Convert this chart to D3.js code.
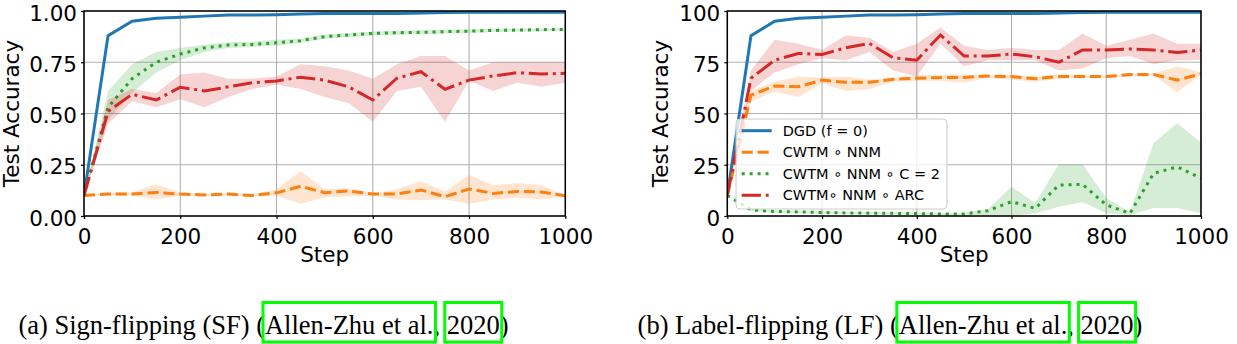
<!DOCTYPE html>
<html>
<head>
<meta charset="utf-8">
<script src="https://cdn.jsdelivr.net/npm/d3@7"></script>
<style>
  html, body { margin: 0; padding: 0; background: #ffffff; }
  svg { display: block; }
  .sans { font-family: "DejaVu Sans", sans-serif; }
  .serif { font-family: "Liberation Serif", "Times New Roman", serif; }
</style>
</head>
<body>
<svg id="chart" width="1237" height="344"></svg>
<script>
// ---------------- DATA ----------------
const steps = [0,50,100,150,200,250,300,350,400,450,500,550,600,650,700,750,800,850,900,950,1000];

const seriesNames = ["DGD (f = 0)", "CWTM \u2218 NNM", "CWTM \u2218 NNM \u2218 C = 2", "CWTM\u2218 NNM \u2218 ARC"];

// (a) Sign-flipping: test accuracy (fraction)
const sfDGD    = [0.10,0.88,0.95,0.965,0.97,0.975,0.98,0.98,0.982,0.985,0.988,0.988,0.988,0.988,0.99,0.993,0.994,0.994,0.994,0.994,0.994];
const sfDGDLo  = [0.10,0.875,0.945,0.96,0.966,0.971,0.976,0.976,0.978,0.981,0.983,0.983,0.982,0.982,0.984,0.989,0.991,0.991,0.991,0.991,0.991];
const sfDGDHi  = [0.10,0.885,0.954,0.969,0.974,0.979,0.984,0.984,0.986,0.989,0.992,0.993,0.994,0.994,0.995,0.996,0.997,0.997,0.997,0.997,0.997];

const sfCWTM   = [0.10,0.107,0.107,0.115,0.107,0.103,0.107,0.10,0.113,0.145,0.114,0.122,0.107,0.107,0.127,0.094,0.132,0.11,0.12,0.117,0.099];
const sfCWTMLo = [0.10,0.10,0.10,0.08,0.10,0.095,0.10,0.095,0.10,0.06,0.09,0.095,0.10,0.08,0.078,0.08,0.06,0.08,0.09,0.08,0.097];
const sfCWTMHi = [0.10,0.113,0.115,0.155,0.115,0.11,0.113,0.105,0.13,0.22,0.13,0.135,0.11,0.13,0.17,0.12,0.20,0.15,0.16,0.15,0.10];

const sfC2     = [0.10,0.53,0.67,0.75,0.79,0.82,0.834,0.837,0.845,0.855,0.875,0.883,0.891,0.894,0.896,0.899,0.902,0.905,0.907,0.909,0.91];
const sfC2Lo   = [0.10,0.47,0.60,0.70,0.76,0.80,0.82,0.825,0.83,0.845,0.865,0.873,0.881,0.884,0.886,0.89,0.893,0.897,0.899,0.903,0.905];
const sfC2Hi   = [0.10,0.61,0.74,0.80,0.82,0.835,0.848,0.85,0.86,0.865,0.885,0.893,0.90,0.904,0.906,0.908,0.91,0.913,0.915,0.915,0.915];

const sfARC    = [0.10,0.51,0.594,0.566,0.628,0.61,0.63,0.65,0.659,0.677,0.663,0.63,0.566,0.672,0.704,0.618,0.663,0.683,0.699,0.693,0.696];
const sfARCLo  = [0.10,0.45,0.56,0.53,0.57,0.53,0.58,0.62,0.64,0.62,0.58,0.55,0.46,0.61,0.63,0.46,0.66,0.61,0.65,0.63,0.65];
const sfARCHi  = [0.10,0.566,0.62,0.60,0.69,0.70,0.67,0.67,0.68,0.74,0.73,0.71,0.67,0.74,0.78,0.78,0.71,0.75,0.75,0.75,0.75];

// (b) Label-flipping: test accuracy (%)
const lfDGD    = [10,88,95,96.5,97,97.5,98,98,98.2,98.5,98.8,98.8,98.8,98.8,99,99.3,99.4,99.4,99.4,99.4,99.4];
const lfDGDLo  = [10,87.5,94.5,96,96.6,97.1,97.6,97.6,97.8,98.1,98.3,98.3,98.2,98.2,98.4,98.9,99.1,99.1,99.1,99.1,99.1];
const lfDGDHi  = [10,88.5,95.4,96.9,97.4,97.9,98.4,98.4,98.6,98.9,99.2,99.3,99.4,99.4,99.5,99.6,99.7,99.7,99.7,99.7,99.7];

const lfCWTM   = [10,59,63.4,63,66.3,65.2,65.2,66.7,67.2,67.5,67.6,68.3,68,67,68,68,68,69,69,66.3,69.3];
const lfCWTMLo = [10,56,60.6,58,64.8,61,62,65.5,66,66,65,67.5,66.5,65.5,67,67.5,67.5,68,68.5,60.5,69];
const lfCWTMHi = [10,61,65.5,68,67.5,68,66.5,67.5,68.5,69,69,68.5,69,68,69,68.5,68.5,69.5,69.5,73,70];

const lfC2     = [10,3,2.2,2,1.7,1.5,1.4,1.3,1.2,1.0,1.0,2.6,7,3.7,15.1,15.4,5.4,1.3,20.8,24,18.4];
const lfC2Lo   = [10,2.5,1.7,1.5,1.2,1.0,0.9,0.8,0.7,0.5,0.5,0.5,0,1.3,4.5,6.8,1.3,0.5,3.9,3.9,1.3];
const lfC2Hi   = [10,3.5,2.7,2.5,2.2,2.0,1.9,1.8,1.7,1.5,1.5,3.4,14.3,6.3,25.3,25.3,8.6,1.8,35.6,45.3,35.8];

const lfARC    = [10,67.2,76,79.3,78.8,82.1,84.2,77.2,76,88.3,78,78,79,77.7,75,81,81,81.5,81,79.7,81];
const lfARCLo  = [10,61,70,74,77,76,80,71,68,84,73,76,76,76,71,72,77,78,74,76,76];
const lfARCHi  = [10,71,86,84,81,88,87,80,84,92,83,81,82,81,81,89,83,86,89,84,84];

const xTicks  = [0,200,400,600,800,1000];
const sfYTicks = [0,0.25,0.5,0.75,1.0];
const lfYTicks = [0,25,50,75,100];

const xLabel = "Step";
const yLabel = "Test Accuracy";
const captionA = ["(a) Sign-flipping (SF) (", "Allen-Zhu et al.", ", ", "2020", ")"];
const captionB = ["(b) Label-flipping (LF) (", "Allen-Zhu et al.", ", ", "2020", ")"];

// ---------------- STYLE ----------------
const colors = ["#1f77b4", "#ff7f0e", "#2ca02c", "#d62728"];
const LW = 3;
const dashes = [null, "11.1,4.8", "3,4.95", "19.2,4.8,3,4.8"];
const FS = 21.5;

const svg = d3.select("#chart");
svg.append("rect").attr("width", 1237).attr("height", 344).attr("fill", "#fff");

function panel(opts) {
  const { id, x0, x1, y0, y1, yMax, yTicks, yFmt, series, labelX, legend } = opts;
  const x = d3.scaleLinear().domain([0, 1000]).range([x0, x1]);
  const y = d3.scaleLinear().domain([0, yMax]).range([y1, y0]);
  const g = svg.append("g").attr("class", "sans");

  g.append("clipPath").attr("id", id).append("rect")
    .attr("x", x0).attr("y", y0).attr("width", x1 - x0).attr("height", y1 - y0);

  // grid
  g.append("g").selectAll("line").data(xTicks).join("line")
    .attr("x1", d => x(d)).attr("x2", d => x(d)).attr("y1", y0).attr("y2", y1)
    .attr("stroke", "#b0b0b0").attr("stroke-width", 1.1);
  g.append("g").selectAll("line").data(yTicks).join("line")
    .attr("x1", x0).attr("x2", x1).attr("y1", d => y(d)).attr("y2", d => y(d))
    .attr("stroke", "#b0b0b0").attr("stroke-width", 1.1);

  const plot = g.append("g").attr("clip-path", `url(#${id})`);
  series.forEach((s, i) => {
    const pts = steps.map((st, k) => ({ st, m: s.mean[k], lo: s.lo[k], hi: s.hi[k] }));
    plot.append("path").datum(pts)
      .attr("d", d3.area().x(d => x(d.st)).y0(d => y(d.lo)).y1(d => y(d.hi)))
      .attr("fill", colors[i]).attr("fill-opacity", 0.2);
    plot.append("path").datum(pts)
      .attr("d", d3.line().x(d => x(d.st)).y(d => y(d.m)))
      .attr("fill", "none").attr("stroke", colors[i]).attr("stroke-width", LW)
      .attr("stroke-dasharray", dashes[i]);
  });

  // axes via d3 axis
  const xAxis = d3.axisBottom(x).tickValues(xTicks).tickSize(3).tickPadding(7).tickFormat(d3.format("d"));
  const yAxis = d3.axisLeft(y).tickValues(yTicks).tickSize(3).tickPadding(4).tickFormat(yFmt);
  const gx = g.append("g").attr("transform", `translate(0,${y1})`).call(xAxis);
  const gy = g.append("g").attr("transform", `translate(${x0},0)`).call(yAxis);
  [gx, gy].forEach(a => {
    a.attr("font-family", null);
    a.select(".domain").remove();
    a.selectAll(".tick line").attr("stroke", "#000").attr("stroke-width", 1.2);
    a.selectAll(".tick text").attr("font-size", FS).attr("fill", "#000");
  });
  gy.selectAll(".tick text").attr("dy", "0.42em");
  gx.selectAll(".tick text").attr("dy", "0.82em");

  // frame
  g.append("rect").attr("x", x0).attr("y", y0).attr("width", x1 - x0).attr("height", y1 - y0)
    .attr("fill", "none").attr("stroke", "#000").attr("stroke-width", 1.5);

  // labels
  g.append("text").attr("x", (x0 + x1) / 2).attr("y", 262).attr("text-anchor", "middle")
    .attr("font-size", FS).text(xLabel);
  g.append("text").attr("transform", `translate(${labelX},${(y0 + y1) / 2}) rotate(-90)`)
    .attr("text-anchor", "middle").attr("font-size", FS).text(yLabel);

  if (legend) {
    const lg = g.append("g");
    lg.append("rect").attr("x", 736).attr("y", 119).attr("width", 211).attr("height", 90)
      .attr("rx", 4).attr("fill", "#fff").attr("fill-opacity", 0.8)
      .attr("stroke", "#cccccc").attr("stroke-width", 1);
    seriesNames.forEach((nm, i) => {
      const yy = 130.7 + i * 21.5;
      lg.append("line").attr("x1", 741.7).attr("x2", 771.7).attr("y1", yy).attr("y2", yy)
        .attr("stroke", colors[i]).attr("stroke-width", LW).attr("stroke-dasharray", dashes[i]);
      lg.append("text").attr("x", 782.7).attr("y", yy).attr("dy", "0.36em")
        .attr("font-size", 14.5).attr("fill", "#000").text(nm);
    });
  }
}

panel({
  id: "clipA", x0: 84, x1: 565.3, y0: 11, y1: 216, yMax: 1, yTicks: sfYTicks,
  yFmt: d3.format(".2f"), labelX: 18.5, legend: false,
  series: [
    { mean: sfDGD, lo: sfDGDLo, hi: sfDGDHi },
    { mean: sfCWTM, lo: sfCWTMLo, hi: sfCWTMHi },
    { mean: sfC2, lo: sfC2Lo, hi: sfC2Hi },
    { mean: sfARC, lo: sfARCLo, hi: sfARCHi }
  ]
});
panel({
  id: "clipB", x0: 727.3, x1: 1201, y0: 11, y1: 216, yMax: 100, yTicks: lfYTicks,
  yFmt: d3.format("d"), labelX: 667.5, legend: true,
  series: [
    { mean: lfDGD, lo: lfDGDLo, hi: lfDGDHi },
    { mean: lfCWTM, lo: lfCWTMLo, hi: lfCWTMHi },
    { mean: lfC2, lo: lfC2Lo, hi: lfC2Hi },
    { mean: lfARC, lo: lfARCLo, hi: lfARCHi }
  ]
});

// captions with link boxes
function caption(parts, cx, baseline) {
  const g = svg.append("g").attr("class", "serif");
  const els = parts.map(p => g.append("text").attr("y", baseline)
    .attr("font-size", 26.5).attr("fill", "#000")
    .style("white-space", "pre").text(p));
  const widths = els.map(e => e.node().getComputedTextLength());
  const total = d3.sum(widths);
  let cur = cx - total / 2;
  els.forEach((e, i) => {
    e.attr("x", cur);
    if (i === 1 || i === 3) {
      g.append("rect").attr("x", cur - 2).attr("y", 302.5)
        .attr("width", widths[i] + 4).attr("height", 39.5)
        .attr("fill", "none").attr("stroke", "#00ff00").attr("stroke-width", 3);
    }
    cur += widths[i];
  });
}
caption(captionA, 263.5, 334);
caption(captionB, 890, 334);
</script>
</body>
</html>
